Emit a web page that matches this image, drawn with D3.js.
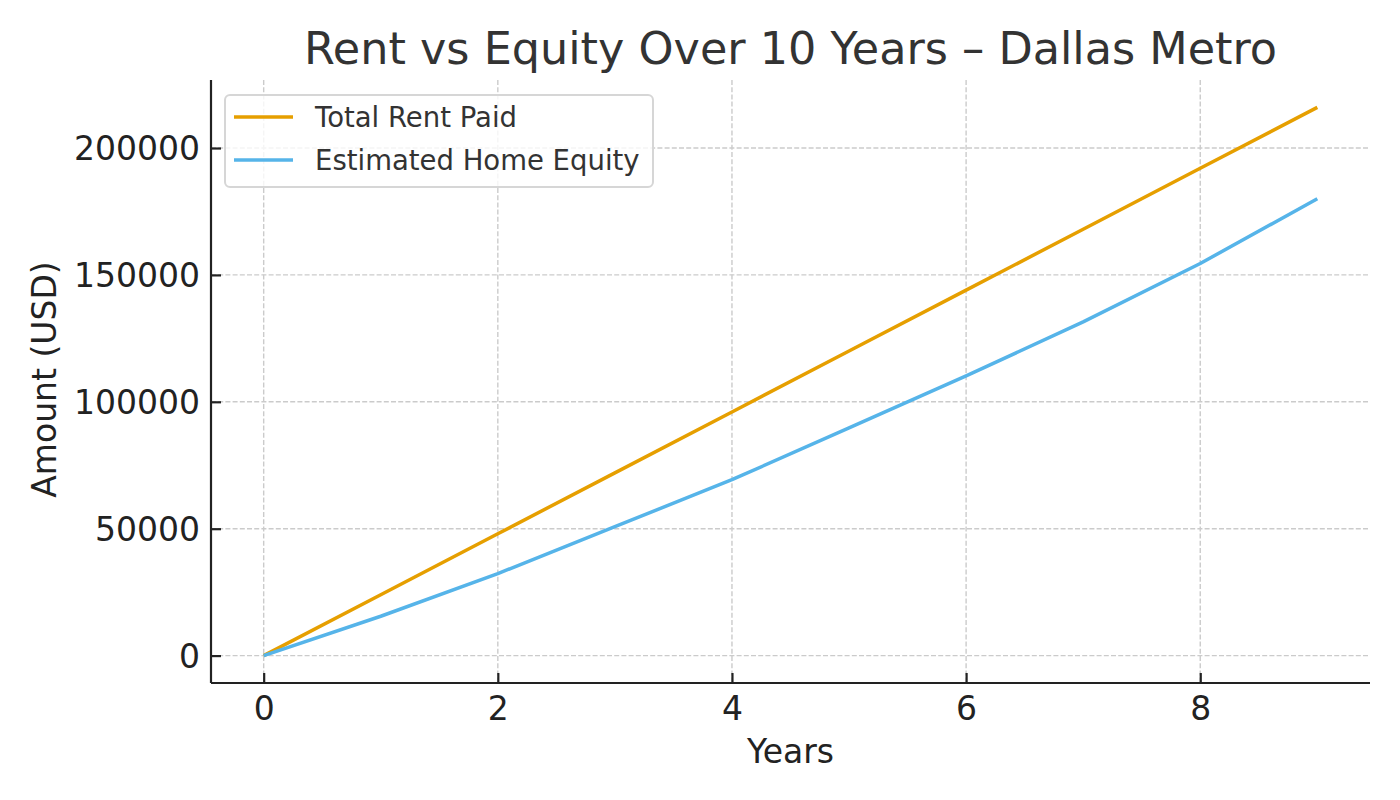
<!DOCTYPE html>
<html>
<head>
<meta charset="utf-8">
<script src="https://cdn.jsdelivr.net/npm/d3@7"></script>
<style>
  body { margin: 0; background: #fff; }
  text { font-family: "DejaVu Sans", sans-serif; }
</style>
</head>
<body>
<div id="chart"></div>
<script>
// data
const years = [0, 1, 2, 3, 4, 5, 6, 7, 8, 9];
const rentPaid = [0, 24000, 48000, 72000, 96000, 120000, 144000, 168000, 192000, 216000];
const homeEquity = [0, 15500, 32300, 50800, 69300, 89700, 110200, 131500, 154500, 180000];
const seriesNames = ["Total Rent Paid", "Estimated Home Equity"];
const seriesColors = ["#E69F00", "#56B4E9"];
const xTicks = [0, 2, 4, 6, 8];
const yTicks = [0, 50000, 100000, 150000, 200000];

const W = 1400, H = 800;
const margin = { top: 80, right: 30, bottom: 117, left: 211 };
const width = W - margin.left - margin.right;
const height = H - margin.top - margin.bottom;

const svg = d3.select("#chart").append("svg")
  .attr("width", W)
  .attr("height", H);

const g = svg.append("g")
  .attr("transform", `translate(${margin.left},${margin.top})`);

// matplotlib-style 5% margins
const xPad = (d3.max(years) - d3.min(years)) * 0.05;
const yMax = d3.max(rentPaid);
const yPad = yMax * 0.05;
const x = d3.scaleLinear().domain([d3.min(years) - xPad, d3.max(years) + xPad]).range([0, width]);
const y = d3.scaleLinear().domain([-yPad, yMax + yPad]).range([height, 0]);

// grid
g.append("g").selectAll("line").data(xTicks).join("line")
  .attr("x1", d => x(d)).attr("x2", d => x(d))
  .attr("y1", 0).attr("y2", height)
  .attr("stroke", "#cbcbcb").attr("stroke-width", 1.4)
  .attr("stroke-dasharray", "5,2.2");
g.append("g").selectAll("line").data(yTicks).join("line")
  .attr("x1", 0).attr("x2", width)
  .attr("y1", d => y(d)).attr("y2", d => y(d))
  .attr("stroke", "#cbcbcb").attr("stroke-width", 1.4)
  .attr("stroke-dasharray", "5,2.2");

// lines
const line = d3.line()
  .x((d, i) => x(years[i]))
  .y(d => y(d));

[rentPaid, homeEquity].forEach((vals, k) => {
  g.append("path")
    .datum(vals)
    .attr("fill", "none")
    .attr("stroke", seriesColors[k])
    .attr("stroke-width", 3.5)
    .attr("stroke-linejoin", "round")
    .attr("d", line);
});

// axes, ticks pointing inward
const xAxis = g.append("g")
  .attr("transform", `translate(0,${height})`)
  .call(d3.axisBottom(x).tickValues(xTicks).tickFormat(d3.format("d")).tickSize(-10).tickPadding(13));
const yAxis = g.append("g")
  .call(d3.axisLeft(y).tickValues(yTicks).tickFormat(d3.format("d")).tickSize(-10).tickPadding(11));

[xAxis, yAxis].forEach(ax => {
  ax.select(".domain").attr("stroke", "#222").attr("stroke-width", 2.2);
  ax.selectAll(".tick line").attr("stroke", "#222").attr("stroke-width", 2.2);
  ax.selectAll(".tick text")
    .attr("fill", "#222")
    .style("font-size", "33px")
    .style("font-family", "DejaVu Sans");
});
xAxis.select(".domain").attr("d", `M0,0H${width}`);
yAxis.select(".domain").attr("d", `M0,${height}V0`);
yAxis.selectAll(".tick text").attr("x", -11).attr("dy", "0.36em");
xAxis.selectAll(".tick text").attr("dy", "0.72em");

// title and axis labels
svg.append("text")
  .attr("x", margin.left + width / 2)
  .attr("y", 64)
  .attr("text-anchor", "middle")
  .attr("fill", "#333")
  .style("font-size", "44.5px")
  .text("Rent vs Equity Over 10 Years – Dallas Metro");

svg.append("text")
  .attr("x", margin.left + width / 2)
  .attr("y", 763)
  .attr("text-anchor", "middle")
  .attr("fill", "#222")
  .style("font-size", "33px")
  .text("Years");

svg.append("text")
  .attr("transform", `translate(56,${margin.top + height / 2 - 2}) rotate(-90)`)
  .attr("text-anchor", "middle")
  .attr("fill", "#222")
  .style("font-size", "33px")
  .text("Amount (USD)");

// legend
const legend = svg.append("g").attr("transform", "translate(225,95)");
legend.append("rect")
  .attr("width", 428).attr("height", 92)
  .attr("rx", 5).attr("ry", 5)
  .attr("fill", "#fff").attr("fill-opacity", 0.8)
  .attr("stroke", "#d6d6d6").attr("stroke-width", 2);

seriesNames.forEach((name, i) => {
  const row = legend.append("g").attr("transform", `translate(0,${22 + i * 43})`);
  row.append("line")
    .attr("x1", 9).attr("x2", 68)
    .attr("stroke", seriesColors[i]).attr("stroke-width", 3.5);
  row.append("text")
    .attr("x", 90).attr("y", 10)
    .attr("fill", "#333")
    .style("font-size", "27.5px")
    .text(name);
});
</script>
</body>
</html>
